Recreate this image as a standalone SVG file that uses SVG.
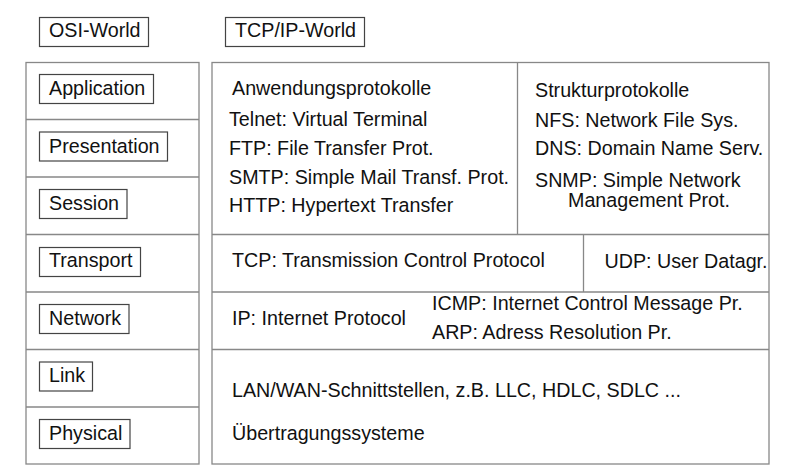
<svg xmlns="http://www.w3.org/2000/svg" width="800" height="475" viewBox="0 0 800 475">
<style>
  text { font-family: "Liberation Sans", Arial, sans-serif; font-size: 19.7px; fill: #111; }
  .frame { fill: none; stroke: #888; stroke-width: 1.3; }
  .div { stroke: #888; stroke-width: 1.3; fill: none; }
  .lbl { fill: #fff; stroke: #444; stroke-width: 1.2; }
</style>
<rect width="800" height="475" fill="#fff"/>
<g id="osi-title"><rect class="lbl" x="39.5" y="17.5" width="109" height="29"/><text x="49" y="37">OSI-World</text></g>
<g id="tcpip-title"><rect class="lbl" x="225.5" y="17.5" width="139" height="29"/><text x="235" y="37">TCP/IP-World</text></g>

<g id="osi-column">
  <rect class="frame" x="26" y="62.5" width="173" height="401.5"/>
</g>
<g id="connectors">
  <path class="div" d="M26 119.5H199M26 177H199M26 234.5H199M26 292H199M26 349.5H199M26 407H199"/>
  <path class="div" d="M212 234.5H769M212 292H769M212 349.5H769M517.5 62.5V234.5M583.5 234.5V292"/>
</g>
<g id="osi-application"><rect class="lbl" x="39.5" y="74.5" width="114" height="29"/><text x="49" y="95">Application</text></g>
<g id="osi-presentation"><rect class="lbl" x="39.5" y="132" width="128" height="29"/><text x="49" y="152.5">Presentation</text></g>
<g id="osi-session"><rect class="lbl" x="39.5" y="189.5" width="87.5" height="29"/><text x="49" y="210">Session</text></g>
<g id="osi-transport"><rect class="lbl" x="39.5" y="247.5" width="101" height="29"/><text x="49" y="267">Transport</text></g>
<g id="osi-network"><rect class="lbl" x="39.5" y="304.5" width="89.5" height="29"/><text x="49" y="324.5">Network</text></g>
<g id="osi-link"><rect class="lbl" x="39.5" y="362" width="53" height="29"/><text x="49" y="382">Link</text></g>
<g id="osi-physical"><rect class="lbl" x="39.5" y="419.5" width="90.5" height="29"/><text x="49" y="439.5">Physical</text></g>

<g id="tcpip-column">
  <rect class="frame" x="212" y="62.5" width="557" height="401.5"/>
</g>
<g id="app-protocols">
  <text x="232" y="94.5">Anwendungsprotokolle</text>
  <text x="229" y="126">Telnet: Virtual Terminal</text>
  <text x="229" y="154.5">FTP: File Transfer Prot.</text>
  <text x="229" y="183.5">SMTP: Simple Mail Transf. Prot.</text>
  <text x="229" y="212">HTTP: Hypertext Transfer</text>
</g>
<g id="struct-protocols">
  <text x="535" y="96.5">Strukturprotokolle</text>
  <text x="535" y="126.5">NFS: Network File Sys.</text>
  <text x="535" y="154.5">DNS: Domain Name Serv.</text>
  <text x="535" y="187">SNMP: Simple Network</text>
  <text x="568" y="207">Management Prot.</text>
</g>
<g id="tcp"><text x="232" y="267">TCP: Transmission Control Protocol</text></g>
<g id="udp"><text x="604.5" y="267.5">UDP: User Datagr.</text></g>
<g id="ip">
  <text x="232" y="324.5">IP: Internet Protocol</text>
  <text x="432" y="310">ICMP: Internet Control Message Pr.</text>
  <text x="432" y="338.5">ARP: Adress Resolution Pr.</text>
</g>
<g id="link-physical">
  <text x="232" y="397">LAN/WAN-Schnittstellen, z.B. LLC, HDLC, SDLC ...</text>
  <text x="232" y="439.5">Übertragungssysteme</text>
</g>
</svg>
